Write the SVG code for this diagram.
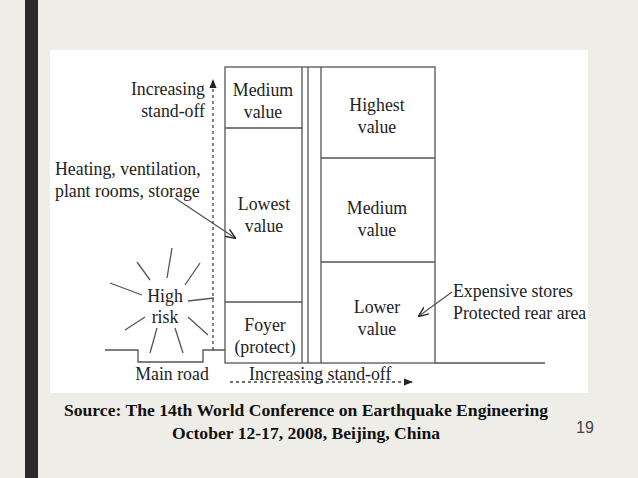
<svg xmlns="http://www.w3.org/2000/svg" width="638" height="478" viewBox="0 0 638 478">
<style>
.l{stroke:#555;stroke-width:1.3;fill:none}
.d{stroke:#444;stroke-width:1.3;fill:none;stroke-dasharray:3,3}
text{font-family:"Liberation Serif",serif;font-size:17.8px;fill:#222}
.c{text-anchor:middle}
.s{font-weight:bold;font-size:17.6px;fill:#111}
</style>
<defs>
<marker id="a" viewBox="0 0 10 10" refX="9" refY="5" markerWidth="7" markerHeight="7" orient="auto"><path d="M0,1L10,5L0,9z" fill="#222"/></marker>
<marker id="o" viewBox="0 0 10 10" refX="9" refY="5" markerWidth="8" markerHeight="8" orient="auto"><path d="M0,1L10,5L0,9" fill="none" stroke="#222" stroke-width="1.3"/></marker>
</defs>
<rect width="638" height="478" fill="#efede7"/>
<rect x="25" y="0" width="13" height="478" fill="#2b2b2b"/>
<rect x="50" y="50" width="538" height="343" fill="#fff"/>
<g id="building" class="l">
<rect x="225" y="67" width="210" height="296"/>
<path d="M302 67V363M308 67V363M321 67V363M225 128H302M225 302H302M321 158H435M321 262H435"/>
<path d="M105 350H138V362H203V350H225M435 363H545"/>
</g>
<g id="rays" class="l">
<path d="M137 262L150 280M172 248L167 278M200 263L185 285M110 283L142 295M125 330L145 317M150 353L157 328M183 353L175 328M208 335L188 317M188 301L214 298"/>
</g>
<g id="connectors">
<path class="d" d="M213 350V80" marker-end="url(#a)"/>
<path class="d" d="M230 382H412" marker-end="url(#a)"/>
<path class="l" d="M175 198L235 238" marker-end="url(#o)"/>
<path class="l" d="M452 292L419 316" marker-end="url(#o)"/>
</g>
<g id="labels">
<text x="205" y="95" text-anchor="end">Increasing</text>
<text x="205" y="117" text-anchor="end">stand-off</text>
<text class="c" x="263" y="96">Medium</text><text class="c" x="263" y="118">value</text>
<text x="55" y="175">Heating, ventilation,</text><text x="55" y="197">plant rooms, storage</text>
<text class="c" x="264" y="210">Lowest</text><text class="c" x="264" y="232">value</text>
<text class="c" x="165" y="302">High</text><text class="c" x="165" y="323">risk</text>
<text class="c" x="265" y="331">Foyer</text><text class="c" x="265" y="353">(protect)</text>
<text class="c" x="172" y="380">Main road</text>
<text x="249" y="380">Increasing stand-off</text>
<text class="c" x="377" y="111">Highest</text><text class="c" x="377" y="133">value</text>
<text class="c" x="377" y="214">Medium</text><text class="c" x="377" y="236">value</text>
<text class="c" x="377" y="313">Lower</text><text class="c" x="377" y="335">value</text>
<text x="453" y="297">Expensive stores</text><text x="453" y="319">Protected rear area</text>
</g>
<text class="s c" x="306" y="416">Source: The 14th World Conference on Earthquake Engineering</text>
<text class="s c" x="306" y="439">October 12-17, 2008, Beijing, China</text>
<text x="576" y="433" style="font-family:'Liberation Sans',sans-serif;font-size:16px;fill:#444">19</text>
</svg>
